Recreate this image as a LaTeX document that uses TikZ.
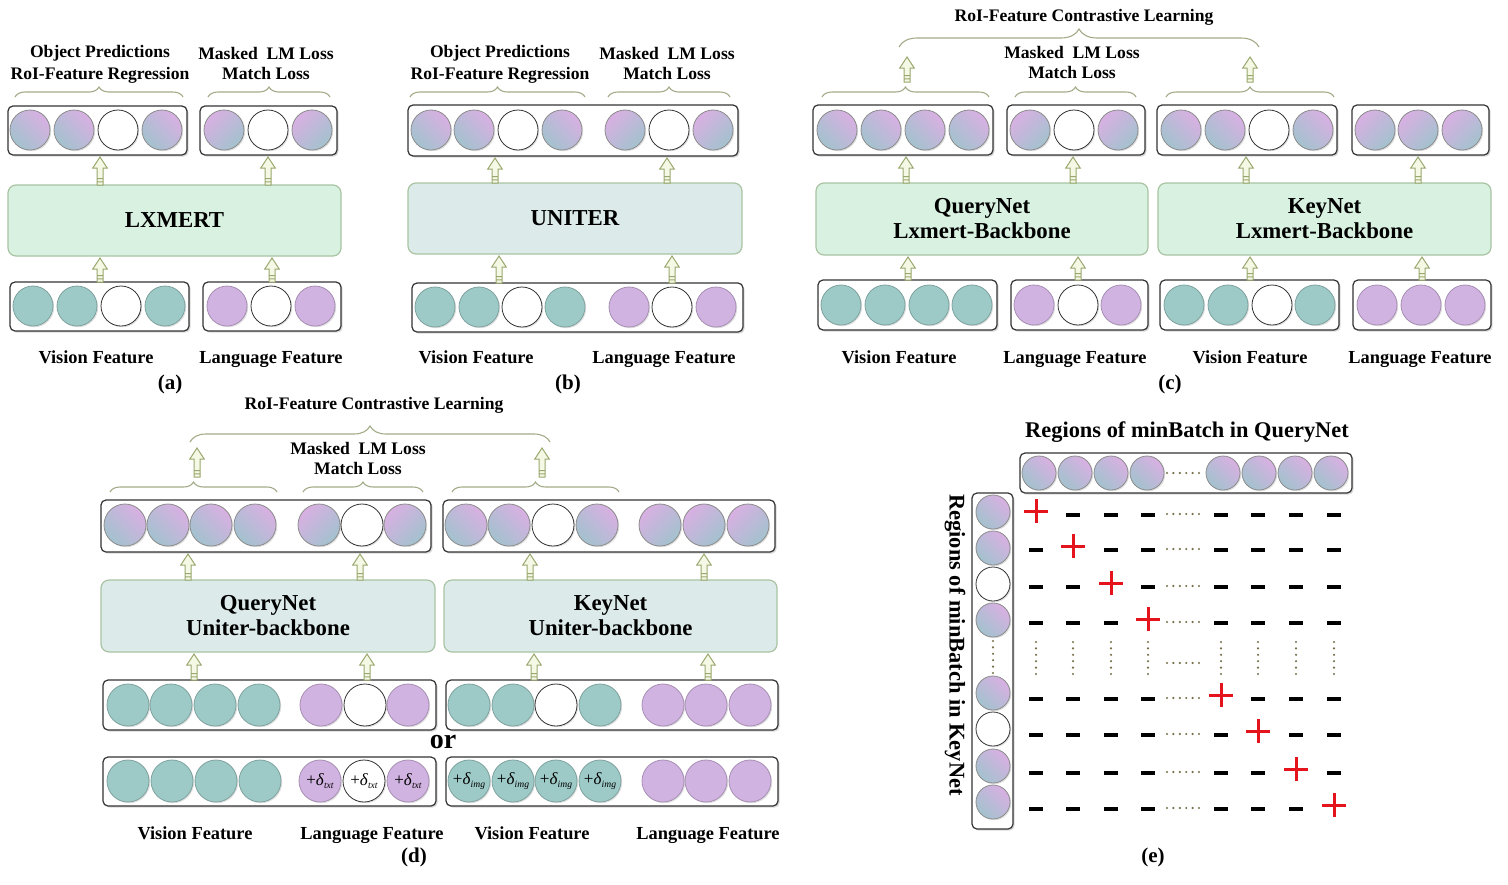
\documentclass[tikz,border=0pt]{standalone}
\usepackage{fontspec}
\setmainfont{Liberation Serif}
\usetikzlibrary{shadows,decorations.pathreplacing,calc}
\definecolor{vteal}{HTML}{9DCAC7}
\definecolor{lpur}{HTML}{D1B3E1}
\definecolor{gblue}{HTML}{A3C2CE}
\definecolor{gpink}{HTML}{D8B0E2}
\definecolor{arrline}{HTML}{98A86E}
\definecolor{arrfill}{HTML}{F6F8E6}
\definecolor{brcol}{HTML}{A3AC88}
\definecolor{lxfill}{HTML}{D8F1E0}
\definecolor{unfill}{HTML}{DCEBEA}
\definecolor{mdline}{HTML}{A8C4A2}
\definecolor{dotcol}{HTML}{75704A}
\definecolor{plred}{HTML}{E5141C}
\tikzset{
  cs/.code={\pgfkeysalso{#1}},
  fbox/.style={draw=black!80, line width=0.6pt, rounded corners=2.5pt, fill=white, inner sep=0pt, outer sep=0pt,
    drop shadow={shadow xshift=0.8pt, shadow yshift=-0.8pt, opacity=0.3}},
  mbox/.style={draw=mdline, line width=0.6pt, rounded corners=4pt, inner sep=0pt, outer sep=0pt,
    font=\fontsize{11.4}{12.5}\selectfont\bfseries, align=center},
  lxm/.style={mbox, fill=lxfill},
  unm/.style={mbox, fill=unfill},
  cir/.style={circle, inner sep=0pt, outer sep=0pt, minimum size=20pt, draw=black!45, line width=0.4pt,
    drop shadow={shadow xshift=0.6pt, shadow yshift=-0.6pt, opacity=0.25}},
  vout/.style={cir, top color=gpink, bottom color=gblue, shading angle=-45},
  lout/.style={cir, top color=gpink, bottom color=gblue, shading angle=45},
  vin/.style={cir, fill=vteal, draw=vteal!80!black},
  lin/.style={cir, fill=lpur, draw=lpur!80!black},
  emp/.style={cir, fill=white, draw=black!80},
  lab/.style={font=\fontsize{8.8}{11}\selectfont\bfseries, inner sep=0pt, align=center},
  lab9/.style={font=\fontsize{9.2}{11}\selectfont\bfseries, inner sep=0pt, anchor=base},
  caplab/.style={font=\fontsize{10.5}{12}\selectfont\bfseries, inner sep=0pt},
  ttl/.style={font=\fontsize{11.2}{13}\selectfont\bfseries, inner sep=0pt},
  brc/.style={draw=brcol, line width=0.55pt, decorate},
  arr/.style={draw=arrline, fill=arrfill, line width=0.5pt},
  dotsty/.style={draw=dotcol, line width=1.2pt, line cap=round, dash pattern=on 0pt off 3.2pt},
  minusm/.style={rectangle, fill=black, inner sep=0pt, minimum width=7pt, minimum height=2.3pt},
  plusm/.style={rectangle, inner sep=0pt, minimum size=12pt, path picture={
    \draw[plred, line width=1.5pt] (path picture bounding box.north) -- (path picture bounding box.south)
      (path picture bounding box.west) -- (path picture bounding box.east);}},
  dl/.style={font=\fontsize{8.5}{9}\selectfont}
}
\newcommand\mkbox[7]{\node[#1, minimum width={(#5-#3)*0.5pt}, minimum height={(#6-#4)*0.5pt}] (#2) at ({(#3+#5)/2},{(#4+#6)/2}) {#7};}
\newcommand\crow[4]{\foreach \xx/\ss [count=\ii] in {#4} {\node[cs/.expanded=\ss, minimum size=#3] (#1-\ii) at (\xx,#2) {};}}
\newcommand\blkarrow[3]{%
  \draw[arr] let \p3=(#1,0), \p1=(#2), \p2=(#3) in
    (\x3-1.5pt,\y1) -- (\x3-1.5pt,\y2-6.5pt) -- (\x3-3.6pt,\y2-6.5pt) -- (\x3,\y2-1pt) -- (\x3+3.6pt,\y2-6.5pt)
    -- (\x3+1.5pt,\y2-6.5pt) -- (\x3+1.5pt,\y1) -- cycle
    (\x3-1.5pt,\y1+1.6pt) -- (\x3+1.5pt,\y1+1.6pt)
    (\x3-1.5pt,\y1+3.2pt) -- (\x3+1.5pt,\y1+3.2pt);}
\newcommand\brcx[4]{\draw[brc, decoration={brace, amplitude=#4}] (#1,#3) -- (#2,#3);}
\newcommand\dsub[1]{+\textit{δ}\raisebox{-1.6pt}{\fontsize{4.8}{5}\selectfont\itshape #1}}
\begin{document}
\begin{tikzpicture}[x=0.5pt,y=-0.5pt]
\fill[white] (0,0) rectangle (1508,884);
\useasboundingbox (0,0) rectangle (1508,884);

% ---------------- (a)
\node[lab] (a-t1) at (100,64) {Object Predictions\\RoI-Feature Regression};
\node[lab] (a-t2) at (266,63) {Masked\ \ LM Loss\\[-1pt]Match Loss};
\brcx{15}{183}{97}{5pt}
\brcx{208}{330}{97}{5pt}
\mkbox{fbox}{a-tb1}{8}{106}{187}{155}{}
\mkbox{fbox}{a-tb2}{200}{106}{337}{155}{}
\crow{a-c1}{130}{20pt}{30/vout,74/vout,118/emp,162/vout}
\crow{a-c2}{130}{20pt}{224/lout,268/emp,312/lout}
\mkbox{lxm}{a-m}{8}{185}{341}{256}{LXMERT}
\mkbox{fbox}{a-bb1}{10}{282}{189}{331}{}
\mkbox{fbox}{a-bb2}{203}{282}{341}{331}{}
\crow{a-c3}{306}{20pt}{33/vin,77/vin,121/emp,165/vin}
\crow{a-c4}{306}{20pt}{227/lin,271/emp,315/lin}
\blkarrow{100}{a-m.north}{a-tb1.south}
\blkarrow{268}{a-m.north}{a-tb2.south}
\blkarrow{100}{a-bb1.north}{a-m.south}
\blkarrow{272}{a-bb2.north}{a-m.south}
\node[lab9] (a-l1) at (96,363) {Vision Feature};
\node[lab9] (a-l2) at (271,363) {Language Feature};
\node[caplab] (a-cap) at (170,384) {(a)};

% ---------------- (b)
\node[lab] (b-t1) at (500,64) {Object Predictions\\RoI-Feature Regression};
\node[lab] (b-t2) at (667,63) {Masked\ \ LM Loss\\[-1pt]Match Loss};
\brcx{410}{585}{97}{5pt}
\brcx{608}{730}{97}{5pt}
\mkbox{fbox}{b-tb}{408}{105}{738}{156}{}
\crow{b-c1}{130}{20pt}{431/vout,474/vout,518/emp,562/vout,625/lout,669/emp,713/lout}
\mkbox{unm}{b-m}{408}{183}{742}{254}{UNITER}
\mkbox{fbox}{b-bb}{412}{283}{743}{332}{}
\crow{b-c2}{307}{20pt}{435/vin,479/vin,522/emp,565/vin,629/lin,672/emp,716/lin}
\blkarrow{495}{b-m.north}{b-tb.south}
\blkarrow{667}{b-m.north}{b-tb.south}
\blkarrow{499}{b-bb.north}{b-m.south}
\blkarrow{672}{b-bb.north}{b-m.south}
\node[lab9] (b-l1) at (476,363) {Vision Feature};
\node[lab9] (b-l2) at (664,363) {Language Feature};
\node[caplab] (b-cap) at (568,384) {(b)};

% ---------------- (c)
\node[lab] (c-title) at (1084,17) {RoI-Feature Contrastive Learning};
\brcx{899}{1259}{47}{9pt}
\node[lab] (c-t2) at (1072,62) {Masked\ \ LM Loss\\[-1pt]Match Loss};
\coordinate (c-s1) at (907,82);
\coordinate (c-e1) at (907,55);
\coordinate (c-s2) at (1250,82);
\coordinate (c-e2) at (1250,55);
\blkarrow{907}{c-s1}{c-e1}
\blkarrow{1250}{c-s2}{c-e2}
\brcx{822}{989}{97}{5pt}
\brcx{1015}{1136}{97}{5pt}
\brcx{1166}{1334}{97}{5pt}
\mkbox{fbox}{c-tb1}{813}{105}{993}{155}{}
\mkbox{fbox}{c-tb2}{1007}{105}{1145}{155}{}
\mkbox{fbox}{c-tb3}{1157}{105}{1337}{155}{}
\mkbox{fbox}{c-tb4}{1352}{105}{1489}{155}{}
\crow{c-c1}{130}{20pt}{837/vout,881/vout,925/vout,969/vout}
\crow{c-c2}{130}{20pt}{1030/lout,1074/emp,1118/lout}
\crow{c-c3}{130}{20pt}{1181/vout,1225/vout,1269/emp,1313/vout}
\crow{c-c4}{130}{20pt}{1375/lout,1418/lout,1462/lout}
\mkbox{lxm}{c-m1}{816}{183}{1148}{255}{QueryNet\\Lxmert-Backbone}
\mkbox{lxm}{c-m2}{1158}{183}{1491}{255}{KeyNet\\Lxmert-Backbone}
\mkbox{fbox}{c-bb1}{818}{280}{997}{330}{}
\mkbox{fbox}{c-bb2}{1011}{280}{1148}{330}{}
\mkbox{fbox}{c-bb3}{1160}{280}{1339}{330}{}
\mkbox{fbox}{c-bb4}{1353}{280}{1491}{330}{}
\crow{c-c5}{305}{20pt}{841/vin,885/vin,929/vin,972/vin}
\crow{c-c6}{305}{20pt}{1034/lin,1078/emp,1121/lin}
\crow{c-c7}{305}{20pt}{1184/vin,1228/vin,1272/emp,1315/vin}
\crow{c-c8}{305}{20pt}{1377/lin,1421/lin,1465/lin}
\blkarrow{906}{c-m1.north}{c-tb1.south}
\blkarrow{1073}{c-m1.north}{c-tb2.south}
\blkarrow{1246}{c-m2.north}{c-tb3.south}
\blkarrow{1418}{c-m2.north}{c-tb4.south}
\blkarrow{908}{c-bb1.north}{c-m1.south}
\blkarrow{1078}{c-bb2.north}{c-m1.south}
\blkarrow{1250}{c-bb3.north}{c-m2.south}
\blkarrow{1422}{c-bb4.north}{c-m2.south}
\node[lab9] (c-l1) at (899,363) {Vision Feature};
\node[lab9] (c-l2) at (1075,363) {Language Feature};
\node[lab9] (c-l3) at (1250,363) {Vision Feature};
\node[lab9] (c-l4) at (1420,363) {Language Feature};
\node[caplab] (c-cap) at (1170,384) {(c)};

% ---------------- (d)
\node[lab] (d-title) at (374,405) {RoI-Feature Contrastive Learning};
\brcx{190}{550}{442}{8pt}
\node[lab] (d-t2) at (358,458) {Masked\ \ LM Loss\\[-1pt]Match Loss};
\coordinate (d-s1) at (197,477);
\coordinate (d-e1) at (197,446);
\coordinate (d-s2) at (542,477);
\coordinate (d-e2) at (542,446);
\blkarrow{197}{d-s1}{d-e1}
\blkarrow{542}{d-s2}{d-e2}
\brcx{110}{277}{492}{5pt}
\brcx{303}{423}{492}{5pt}
\brcx{452}{619}{492}{5pt}
\mkbox{fbox}{d-tb1}{101}{500}{431}{552}{}
\mkbox{fbox}{d-tb2}{443}{500}{775}{552}{}
\crow{d-c1}{525}{21pt}{125/vout,168/vout,211/vout,255/vout,319/lout,362/emp,405/lout}
\crow{d-c2}{525}{21pt}{466/vout,509/vout,553/emp,597/vout,660/lout,704/lout,748/lout}
\mkbox{unm}{d-m1}{101}{580}{435}{652}{QueryNet\\Uniter-backbone}
\mkbox{unm}{d-m2}{444}{580}{777}{652}{KeyNet\\Uniter-backbone}
\blkarrow{188}{d-m1.north}{d-tb1.south}
\blkarrow{360}{d-m1.north}{d-tb1.south}
\blkarrow{530}{d-m2.north}{d-tb2.south}
\blkarrow{704}{d-m2.north}{d-tb2.south}
\mkbox{fbox}{d-bb1}{103}{680}{436}{730}{}
\mkbox{fbox}{d-bb2}{446}{680}{778}{730}{}
\crow{d-c3}{705}{21pt}{128/vin,171/vin,215/vin,259/vin,321/lin,365/emp,408/lin}
\crow{d-c4}{705}{21pt}{469/vin,513/vin,556/emp,600/vin,663/lin,706/lin,750/lin}
\blkarrow{194}{d-bb1.north}{d-m1.south}
\blkarrow{367}{d-bb1.north}{d-m1.south}
\blkarrow{534}{d-bb2.north}{d-m2.south}
\blkarrow{708}{d-bb2.north}{d-m2.south}
\node[font=\fontsize{14}{16}\selectfont\bfseries, inner sep=0pt] (d-or) at (443,742) {or};
\mkbox{fbox}{d-cb1}{103}{757}{436}{806}{}
\mkbox{fbox}{d-cb2}{446}{757}{778}{806}{}
\crow{d-c5}{781}{21pt}{128/vin,172/vin,216/vin,260/vin}
\node[lin, minimum size=21pt, dl] (d-c6-1) at (320,781) {\dsub{txt}};
\node[emp, minimum size=21pt, dl] (d-c6-2) at (364,781) {\dsub{txt}};
\node[lin, minimum size=21pt, dl] (d-c6-3) at (408,781) {\dsub{txt}};
\foreach \xx [count=\ii] in {469,513,556,600}
  {\node[vin, minimum size=21pt, dl] (d-c7-\ii) at (\xx,781) {\dsub{img}};}
\crow{d-c8}{781}{21pt}{663/lin,706/lin,750/lin}
\node[lab9] (d-l1) at (195,839) {Vision Feature};
\node[lab9] (d-l2) at (372,839) {Language Feature};
\node[lab9] (d-l3) at (532,839) {Vision Feature};
\node[lab9] (d-l4) at (708,839) {Language Feature};
\node[caplab] (d-cap) at (414,857) {(d)};

% ---------------- (e)
\node[ttl] (e-title) at (1187,432) {Regions of minBatch in QueryNet};
\mkbox{fbox}{e-tb}{1020}{453}{1352}{493}{}
\crow{e-qc}{473}{17pt}{1039/vout,1075/vout,1111/vout,1147/vout,1223/vout,1259/vout,1295/vout,1331/vout}
\draw[dotsty] (1167,473) -- (1203,473);
\mkbox{fbox}{e-lb}{972}{493}{1013}{829}{}
\foreach \yy/\ss [count=\ii] in {512/vout,548/vout,584/emp,620/vout,693/vout,729/emp,766/vout,802/vout}
  {\node[cs/.expanded=\ss, minimum size=17pt] (e-kc-\ii) at (993,\yy) {};}
\draw[dotsty] (993,641) -- (993,677);
\node[ttl, rotate=-90] (e-vt) at (955,645) {Regions of minBatch in KeyNet};
\foreach \rr/\ry in {1/515,2/550,3/587,4/623,5/699,6/735,7/773,8/809} {
  \foreach \cc/\cx in {1/1036,2/1073,3/1111,4/1148,5/1221,6/1258,7/1296,8/1334} {
    \ifnum\rr=\cc
      \node[plusm] (e-\rr-\cc) at (\cx,\ry-4) {};
    \else
      \node[minusm] (e-\rr-\cc) at (\cx,\ry) {};
    \fi
  }
  \draw[dotsty] (1167,\ry-1) -- (1203,\ry-1);
}
\foreach \cx in {1036,1073,1111,1148,1221,1258,1296,1334}
  {\draw[dotsty] (\cx,642) -- (\cx,678);}
\draw[dotsty] (1167,663) -- (1203,663);
\node[caplab] (e-cap) at (1153,857) {(e)};
\end{tikzpicture}
\end{document}
